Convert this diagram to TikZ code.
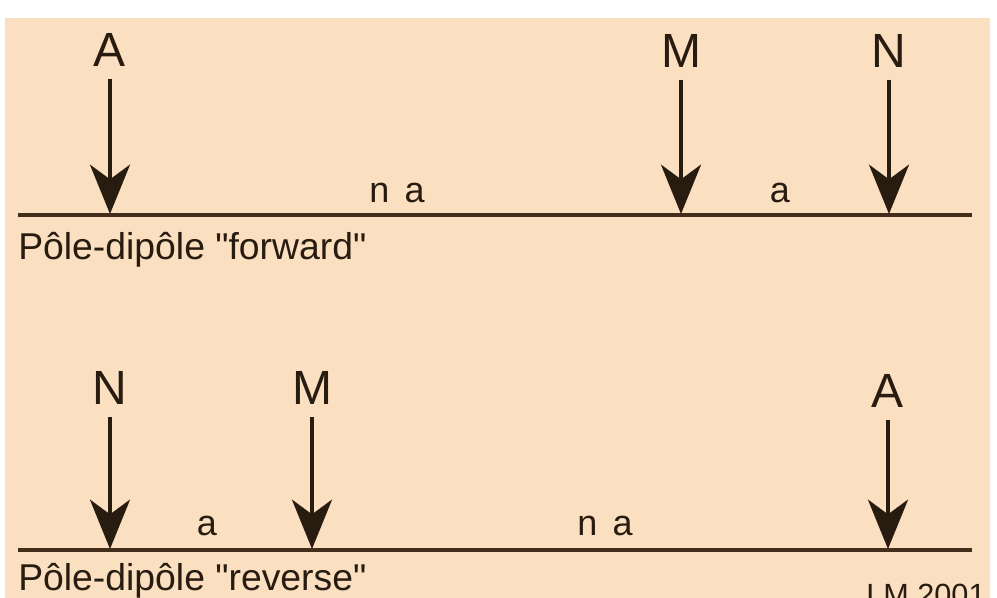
\documentclass[tikz,border=0pt]{standalone}
\usepackage{fontspec}
\setmainfont{Liberation Sans}[Ligatures=TeXOff]
\usetikzlibrary{arrows.meta}
\definecolor{peach}{RGB}{250,223,192}
\definecolor{ink}{RGB}{40,28,16}
\definecolor{linec}{RGB}{66,46,26}
\tikzset{
  pole/.style={inner sep=0pt, text=ink, font=\fontsize{36}{40}\selectfont},
  spacing/.style={inner sep=0pt, text=ink, font=\fontsize{27}{30}\selectfont},
  caption/.style={inner sep=0pt, text=ink, anchor=base west, font=\fontsize{28}{30}\selectfont},
  ground/.style={draw=linec, line width=3pt},
  probe/.style={draw=ink, line width=3pt, shorten <=9pt,
    -{Stealth[length=37pt, width=30pt, inset=11pt]}},
}
\begin{document}
\begin{tikzpicture}[x=0.75pt, y=-0.75pt]
\useasboundingbox (0,0) rectangle (997,598);
\fill[white] (0,0) rectangle (997,598);
\fill[peach] (5,18) rectangle (990,598);

% forward
\coordinate (f0) at (18,215);
\coordinate (f1) at (972,215);
\draw[ground] (f0) -- (f1);
\coordinate (fA) at (110,214);
\coordinate (fM) at (681,214);
\coordinate (fN) at (889,214);
\node[pole] (lfA) at (110,50) {A};
\node[pole] (lfM) at (681,51) {M};
\node[pole] (lfN) at (889,51) {N};
\draw[probe] (lfA) -- (fA);
\draw[probe] (lfM) -- (fM);
\draw[probe] (lfN) -- (fN);
\node[spacing] (fna) at (397,193) {n\hspace{0.42em}a};
\node[spacing] (fa) at (780,193) {a};
\node[caption] (fcap) at (18,260) {Pôle-dipôle "forward"};

% reverse
\coordinate (r0) at (18,550);
\coordinate (r1) at (972,550);
\draw[ground] (r0) -- (r1);
\coordinate (rN) at (110,549);
\coordinate (rM) at (312,549);
\coordinate (rA) at (888,549);
\node[pole] (lrN) at (110,388) {N};
\node[pole] (lrM) at (312,388) {M};
\node[pole] (lrA) at (888,391) {A};
\draw[probe] (lrN) -- (rN);
\draw[probe] (lrM) -- (rM);
\draw[probe] (lrA) -- (rA);
\node[spacing] (rna) at (605,526) {n\hspace{0.42em}a};
\node[spacing] (ra) at (207,526) {a};
\node[caption] (rcap) at (18,590) {Pôle-dipôle "reverse"};

\node[inner sep=0pt, text=ink, anchor=base west, font=\fontsize{23}{26}\selectfont] (lm) at (866,605) {LM 2001};
\end{tikzpicture}
\end{document}
